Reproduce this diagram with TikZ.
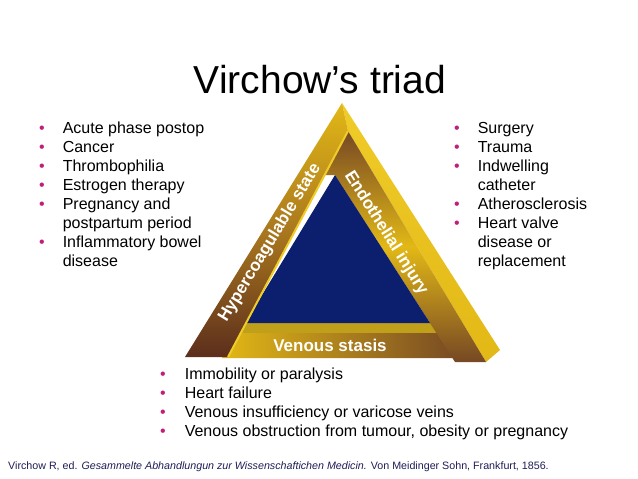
\documentclass[tikz,border=0pt]{standalone}
\usepackage{fontspec}
\setmainfont{Liberation Sans}
\usepackage{xcolor}
\usetikzlibrary{positioning,calc}
\definecolor{TriBlue}{RGB}{12,30,110}
\definecolor{GoldBar}{RGB}{226,184,22}
\definecolor{GoldPale}{RGB}{240,204,40}
\definecolor{GoldBrown}{RGB}{170,120,30}
\definecolor{OliveGold}{RGB}{192,160,26}
\definecolor{BrownBar}{RGB}{118,72,36}
\definecolor{BrownDeep}{RGB}{92,46,28}
\definecolor{BulletPink}{RGB}{192,30,122}
\definecolor{NoteNavy}{RGB}{30,30,88}
\tikzset{
  title/.style   = {font=\fontsize{39}{44}\selectfont, inner sep=0pt},
  bartext/.style = {text=white, font=\fontsize{17}{20}\selectfont\bfseries,
                    inner sep=0pt},
  bullist/.style = {anchor=base west, inner sep=0pt,
                    font=\fontsize{16}{19}\selectfont},
  note/.style    = {anchor=base west, inner sep=0pt, text=NoteNavy,
                    font=\fontsize{10.7}{12}\selectfont}
}
\newcommand{\bul}{\textcolor{BulletPink}{\textbullet}}

\begin{document}
\begin{tikzpicture}[x=1pt, y=-1pt]
\fill[white] (0,0) rectangle (638,479);
\useasboundingbox (0,0) rectangle (638,479);

% corners of the triad
\coordinate (apex)   at (342,103);
\coordinate (lo)     at (185,357);
\coordinate (ro)     at (500,350);
\coordinate (rb)     at (486,362);
\coordinate (rin)    at (455,362);
\coordinate (crease) at (348,131);
\coordinate (lin)    at (228,357);
\coordinate (b1)     at (335,175);
\coordinate (b2)     at (245,323);
\coordinate (b3)     at (430,323);

% bottom bar
\fill[OliveGold] (236,323) -- (440,323) -- (446,333) -- (232,333) -- cycle;
\shade[left color=GoldBar, right color=BrownBar]
    (232,333) -- (446,333) -- (462,358) -- (222,358) -- cycle;
% right bar
\shade[top color=GoldPale, bottom color=GoldBar]
    (apex) -- (ro) -- (rb) -- (crease) -- cycle;
\shade[top color=BrownBar, bottom color=BrownBar, middle color=GoldBar]
    (crease) -- (rb) -- (rin) -- (b1) -- (318,175) -- (335,140) -- cycle;
% inner triangle
\fill[TriBlue] (b1) -- (b2) -- (b3) -- cycle;
% left bar
\shade[top color=GoldBar, bottom color=BrownDeep, middle color=GoldBrown]
    (lo) -- (apex) -- (crease) -- (lin) -- cycle;
\draw[GoldPale, line width=2pt] (crease) -- (lin);

\node[bartext, rotate=58.8]  (hyper) at (270,243) {Hypercoagulable state};
\node[bartext, rotate=-57.8] (endo)  at (386,233) {Endothelial injury};
\node[bartext]               (stasis) at (330,345) {Venous stasis};

\node[title] (ttl) at (320,80) {Virchow’s triad};

\node[bullist] (hyplist) at (39,133.5) {\begin{tabular}[t]{@{}l@{\hspace{18pt}}l@{}}
\bul & Acute phase postop\\
\bul & Cancer\\
\bul & Thrombophilia\\
\bul & Estrogen therapy\\
\bul & Pregnancy and\\
     & postpartum period\\
\bul & Inflammatory bowel\\
     & disease
\end{tabular}};

\node[bullist] (endolist) at (454,133.5) {\begin{tabular}[t]{@{}l@{\hspace{18pt}}l@{}}
\bul & Surgery\\
\bul & Trauma\\
\bul & Indwelling\\
     & catheter\\
\bul & Atherosclerosis\\
\bul & Heart valve\\
     & disease or\\
     & replacement
\end{tabular}};

\node[bullist] (staslist) at (160,379.5) {\begin{tabular}[t]{@{}l@{\hspace{19pt}}l@{}}
\bul & Immobility or paralysis\\
\bul & Heart failure\\
\bul & Venous insufficiency or varicose veins\\
\bul & Venous obstruction from tumour, obesity or pregnancy
\end{tabular}};

\node[note] (cite) at (8,469) {Virchow R, ed. \textit{Gesammelte Abhandlungun zur Wissenschaftichen Medicin.} Von Meidinger Sohn, Frankfurt, 1856.};
\end{tikzpicture}
\end{document}
